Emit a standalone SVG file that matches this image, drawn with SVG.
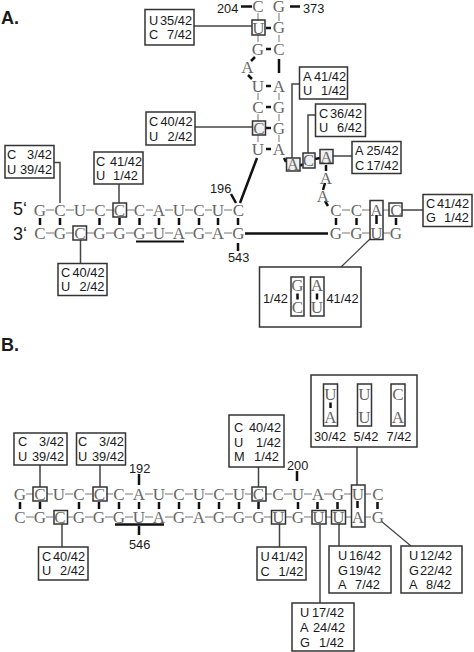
<svg xmlns="http://www.w3.org/2000/svg" width="474" height="652" viewBox="0 0 474 652">
<style>
.bg{fill:#fff}
.b{font:17px "Liberation Serif","Times New Roman",serif;fill:#666;text-anchor:middle}
.t{font:12.8px "Liberation Sans",Arial,sans-serif;fill:#1a1a1a}
.r{text-anchor:end}
.m{text-anchor:middle}
.h{font:bold 18px "Liberation Sans",Arial,sans-serif;fill:#1a1a1a}
.e{font:18px "Liberation Sans",Arial,sans-serif;fill:#1a1a1a}
.box{fill:#fff;stroke:#333;stroke-width:1.5}
.sb{fill:none;stroke:#333;stroke-width:1.5}
.thin{fill:none;stroke:#777;stroke-width:1}
.tick{fill:none;stroke:#111;stroke-width:2.500}
.lead{fill:none;stroke:#444;stroke-width:1.500}
.bar{fill:none;stroke:#111;stroke-width:2}
</style>
<rect class="bg" width="474" height="652"/>
<text class="h" x="1" y="24">A.</text>
<text class="h" x="1" y="351">B.</text>

<g id="connectors">
<path class="thin" d="M46 210H54M66 210H74M86 210H94M106 210H113M127 210H134M146 210H153M165 210H173M185 210H193M205 210H212M224 210H232M46 233H54M66 233H73M87 233H94M106 233H114M126 233H134M146 233H153M165 233H173M185 233H193M205 233H212M224 233H232M342 210H350M362 210H370M383 210H389M342 233H350M362 233H370M383 233H390M258 13V21M258 35V42M279 13V21M279 35V42M258 93V100M258 114V121M258 135V142M279 93V100M279 114V121M279 135V142"/>
<path class="tick" d="M40 218V225M60 218V225M99.500 218V225M119.500 218V225M139.500 218V225M159 218V225M179 218V225M199 218V225M218 218V225M238 218V225M336 218V225M356.500 218V225M376.500 215V224M396 218V225"/>
<path class="tick" d="M241 6.500H252M290 6.500H300M266 28H271M266 49H271M266 86H271M266 107H271M266 128H271M266 149H271M279 59V73M255 57L251 61M248 75L252 79M257 158L240 203M245 233.500H328M284 158L286 162M300 166L303 164M315 159L320 158M326 165V171M325 183L323 190M325 201L328 206M231 194L236 203M238 243V251"/>
<path class="bar" d="M136 241.500H184"/>
<path class="lead" d="M194 26H252M195 127H252M299 84H292V158M315 115H308V153M352 156H333M54 162.500H60V203M119 184V203M80.500 240V263M402 210H423"/>
<path class="lead" style="stroke-width:1.200" d="M370 239L341 267"/>
<path class="thin" d="M26 494H33M47 494H53M65 494H73M85 494H92M106 494H113M125 494H133M145 494H153M165 494H173M185 494H193M205 494H213M225 494H233M245 494H251M265 494H272M284 494H292M304 494H312M324 494H332M344 494H351M365 494H371M26 517H34M46 517H53M67 517H73M85 517H93M105 517H113M125 517H133M145 517H153M165 517H173M185 517H193M205 517H213M225 517H233M245 517H252M264 517H271M285 517H292M304 517H311M326 517H331M345 517H351M365 517H371"/>
<path class="tick" d="M20 502V509M40 502V509M79 502V509M99 502V509M119 502V509M139 502V509M159 502V509M179 502V509M199 502V509M219 502V509M239 502V509M258.500 502V509M298 502V509M317.500 502V509M337.500 502V509M357.500 501V508M377.500 502V509M139 474V485M297 471V481M139 526V535"/>
<path class="tick" d="M115 524.500H164"/>
<path class="lead" d="M40 465V487M100 465V487M62 524V547M258.500 467V487M357 447V485M279.500 524V547M320 525V603M339 524V546"/>
<path class="lead" style="stroke-width:1.200" d="M381 521L411 546"/>
</g>

<g id="a-stem">
<text class="b" x="258" y="11.500">C</text><text class="b" x="279" y="11.500">G</text>
<text class="b" x="279" y="33">G</text>
<text class="b" x="258" y="54.500">G</text><text class="b" x="279" y="54.500">C</text>
<text class="b" x="247.500" y="72.500">A</text>
<text class="b" x="258" y="91.500">U</text><text class="b" x="279" y="91.500">A</text>
<text class="b" x="258" y="112.500">C</text><text class="b" x="279" y="112.500">G</text>
<text class="b" x="279" y="133.500">G</text>
<text class="b" x="258" y="154.500">U</text><text class="b" x="279" y="154.500">A</text>
<text class="b" x="326" y="183.500">A</text><text class="b" x="323" y="201.500">A</text>
</g>
<g id="a-helix">
<text class="b" x="40" y="215.500">G</text><text class="b" x="60" y="215.500">C</text><text class="b" x="80" y="215.500">U</text><text class="b" x="100" y="215.500">C</text><text class="b" x="139.500" y="215.500">C</text><text class="b" x="159" y="215.500">A</text><text class="b" x="179" y="215.500">U</text><text class="b" x="199" y="215.500">C</text><text class="b" x="218" y="215.500">U</text><text class="b" x="238.500" y="215.500">C</text>
<text class="b" x="40" y="238.500">C</text><text class="b" x="60" y="238.500">G</text><text class="b" x="99.500" y="238.500">G</text><text class="b" x="119.500" y="238.500">G</text><text class="b" x="139.500" y="238.500">G</text><text class="b" x="159" y="238.500">U</text><text class="b" x="179" y="238.500">A</text><text class="b" x="199" y="238.500">G</text><text class="b" x="218" y="238.500">A</text><text class="b" x="238.500" y="238.500">G</text>
<text class="b" x="336" y="215.500">C</text><text class="b" x="356.500" y="215.500">C</text>
<text class="b" x="336" y="238.500">G</text><text class="b" x="356.500" y="238.500">G</text><text class="b" x="396" y="238.500">G</text>
<text class="e" x="13" y="215">5‘</text><text class="e" x="13" y="240">3‘</text>
</g>
<g id="a-labels">
<text class="t" x="217" y="12.500">204</text><text class="t" x="303" y="12.500">373</text>
<text class="t" x="210" y="192.500">196</text><text class="t" x="228" y="262">543</text>
</g>
<g id="a-boxed-bases">
<rect class="sb" x="252" y="20" width="13" height="15"/><text class="b" x="258.500" y="33.500">U</text>
<rect class="sb" x="252.500" y="121" width="13" height="14" style="fill:#f0f0f0"/><text class="b" x="259" y="133.500">C</text>
<rect class="sb" x="286.500" y="158" width="13.500" height="13" style="fill:#f0f0f0"/><text class="b" x="293" y="169.500">A</text>
<rect class="sb" x="303" y="153" width="12" height="15" style="fill:#f0f0f0"/><text class="b" x="308.500" y="165.500">C</text>
<rect class="sb" x="320" y="149.500" width="13" height="14" style="fill:#f0f0f0"/><text class="b" x="326.500" y="162.500">A</text>
<rect class="sb" x="113" y="203" width="13.500" height="14"/><text class="b" x="119.500" y="215.500">C</text>
<rect class="sb" x="73" y="226" width="13.500" height="14"/><text class="b" x="80" y="238.500">C</text>
<rect class="sb" x="370" y="200.500" width="13" height="39"/><text class="b" x="376.500" y="215.500">A</text><text class="b" x="376.500" y="238.500">U</text>
<rect class="sb" x="389" y="203" width="13" height="13"/><text class="b" x="396" y="215.500">C</text>
</g>
<g id="a-u35"><rect class="box" x="145" y="9.500" width="49" height="35.500"/><text class="t" x="149" y="24.500">U</text><text class="t r" x="192" y="24.500">35/42</text><text class="t" x="149" y="38.500">C</text><text class="t r" x="192" y="38.500">7/42</text></g>
<g id="a-c40-top"><rect class="box" x="146" y="112" width="49" height="33"/><text class="t" x="149" y="126">C</text><text class="t r" x="192.500" y="126">40/42</text><text class="t" x="149" y="140.500">U</text><text class="t r" x="192.500" y="140.500">2/42</text></g>
<g id="a-a41"><rect class="box" x="299.500" y="67" width="48" height="32"/><text class="t" x="303" y="80.500">A</text><text class="t r" x="346" y="80.500">41/42</text><text class="t" x="303" y="95">U</text><text class="t r" x="346" y="95">1/42</text></g>
<g id="a-c36"><rect class="box" x="315.500" y="104" width="50" height="32.500"/><text class="t" x="319" y="117.500">C</text><text class="t r" x="362" y="117.500">36/42</text><text class="t" x="319" y="132">U</text><text class="t r" x="362" y="132">6/42</text></g>
<g id="a-a25"><rect class="box" x="352" y="141.500" width="49" height="32"/><text class="t" x="355" y="155">A</text><text class="t r" x="398.500" y="155">25/42</text><text class="t" x="355" y="170">C</text><text class="t r" x="398.500" y="170">17/42</text></g>
<g id="a-c3"><rect class="box" x="5" y="145.500" width="49" height="32.500"/><text class="t" x="7" y="159">C</text><text class="t r" x="52" y="159">3/42</text><text class="t" x="7" y="173.500">U</text><text class="t r" x="52" y="173.500">39/42</text></g>
<g id="a-c41"><rect class="box" x="94" y="152" width="49" height="32"/><text class="t" x="96" y="165.500">C</text><text class="t r" x="142" y="165.500">41/42</text><text class="t" x="96" y="180">U</text><text class="t r" x="138" y="180">1/42</text></g>
<g id="a-c40-bottom"><rect class="box" x="58" y="263.500" width="49" height="32"/><text class="t" x="61" y="276.500">C</text><text class="t r" x="104.500" y="276.500">40/42</text><text class="t" x="61" y="291">U</text><text class="t r" x="104.500" y="291">2/42</text></g>
<g id="a-c41-right"><rect class="box" x="423" y="194.500" width="49" height="32"/><text class="t" x="426" y="207.500">C</text><text class="t r" x="469" y="207.500">41/42</text><text class="t" x="426" y="222">G</text><text class="t r" x="469" y="222">1/42</text></g>
<g id="a-pairs"><rect class="box" x="259.500" y="267" width="101.500" height="60"/>
<rect class="sb" x="291" y="277" width="13" height="39"/><text class="b" x="297.500" y="290.500">G</text><text class="b" x="297.500" y="312.500">C</text>
<rect class="sb" x="310.500" y="277" width="13.500" height="39"/><text class="b" x="317" y="290.500">A</text><text class="b" x="317" y="312.500">U</text>
<path class="tick" d="M297.500 293.500V299.500M317 293.500V299.500"/>
<text class="t" x="263" y="302.500">1/42</text><text class="t" x="326.500" y="302.500">41/42</text></g>

<g id="b-helix">
<text class="b" x="20" y="499.500">G</text><text class="b" x="59" y="499.500">U</text><text class="b" x="79" y="499.500">C</text><text class="b" x="119" y="499.500">C</text><text class="b" x="139" y="499.500">A</text><text class="b" x="159" y="499.500">U</text><text class="b" x="179" y="499.500">C</text><text class="b" x="199" y="499.500">U</text><text class="b" x="219" y="499.500">C</text><text class="b" x="239" y="499.500">U</text><text class="b" x="278" y="499.500">C</text><text class="b" x="298" y="499.500">U</text><text class="b" x="318" y="499.500">A</text><text class="b" x="338" y="499.500">G</text><text class="b" x="378" y="499.500">C</text>
<text class="b" x="20" y="522.500">C</text><text class="b" x="40" y="522.500">G</text><text class="b" x="79" y="522.500">G</text><text class="b" x="99" y="522.500">G</text><text class="b" x="119" y="522.500">G</text><text class="b" x="139" y="522.500">U</text><text class="b" x="159" y="522.500">A</text><text class="b" x="179" y="522.500">G</text><text class="b" x="199" y="522.500">A</text><text class="b" x="219" y="522.500">G</text><text class="b" x="239" y="522.500">G</text><text class="b" x="258.500" y="522.500">G</text><text class="b" x="298" y="522.500">G</text><text class="b" x="378" y="522.500">G</text>
</g>
<g id="b-labels"><text class="t" x="129" y="472.500">192</text><text class="t" x="287" y="469.500">200</text><text class="t" x="129" y="548.500">546</text></g>
<g id="b-boxed-bases">
<rect class="sb" x="33" y="487" width="14" height="14"/><text class="b" x="40" y="499.500">C</text>
<rect class="sb" x="93" y="487" width="14" height="14"/><text class="b" x="99.500" y="499.500">C</text>
<rect class="sb" x="54" y="510.500" width="13.500" height="13.500"/><text class="b" x="60" y="522.500">C</text>
<rect class="sb" x="252" y="487" width="14" height="14"/><text class="b" x="258.500" y="499.500">C</text>
<rect class="sb" x="271.500" y="510.500" width="14" height="13.500"/><text class="b" x="278.500" y="522.500">U</text>
<rect class="sb" x="312" y="510.500" width="14" height="13.500"/><text class="b" x="318.500" y="522.500">U</text>
<rect class="sb" x="331.500" y="510.500" width="14" height="13.500"/><text class="b" x="338.500" y="522.500">U</text>
<rect class="sb" x="351.500" y="485" width="13.500" height="42"/><text class="b" x="358" y="499.500">U</text><text class="b" x="358" y="522.500">A</text>
</g>
<g id="b-c3-1"><rect class="box" x="14" y="433" width="53" height="32"/><text class="t" x="18" y="446">C</text><text class="t r" x="64" y="446">3/42</text><text class="t" x="18" y="460.500">U</text><text class="t r" x="64" y="460.500">39/42</text></g>
<g id="b-c3-2"><rect class="box" x="76.500" y="433" width="49" height="32"/><text class="t" x="78" y="446">C</text><text class="t r" x="124" y="446">3/42</text><text class="t" x="78" y="460.500">U</text><text class="t r" x="124" y="460.500">39/42</text></g>
<g id="b-c40"><rect class="box" x="38.500" y="547" width="49.500" height="33"/><text class="t" x="42" y="560.500">C</text><text class="t r" x="85" y="560.500">40/42</text><text class="t" x="42" y="575">U</text><text class="t r" x="85" y="575">2/42</text></g>
<g id="b-c40-3"><rect class="box" x="229" y="415" width="55" height="52"/><text class="t" x="234" y="431.500">C</text><text class="t r" x="281" y="431.500">40/42</text><text class="t" x="234" y="446.500">U</text><text class="t r" x="281" y="446.500">1/42</text><text class="t" x="234" y="461">M</text><text class="t r" x="279" y="461">1/42</text></g>
<g id="b-pairs"><rect class="box" x="311" y="375" width="106" height="72"/>
<rect class="sb" x="323.500" y="384" width="14" height="42"/><text class="b" x="330.500" y="399.500">U</text><text class="b" x="330.500" y="422.500">A</text>
<path class="tick" d="M330.500 402.500V408"/>
<rect class="sb" x="357.500" y="384" width="14" height="42"/><text class="b" x="364.500" y="399.500">U</text><text class="b" x="364.500" y="422.500">U</text>
<rect class="sb" x="391" y="384" width="14" height="42"/><text class="b" x="398" y="399.500">C</text><text class="b" x="398" y="422.500">A</text>
<text class="t m" x="330" y="440.500">30/42</text><text class="t m" x="366" y="440.500">5/42</text><text class="t m" x="399" y="440.500">7/42</text></g>
<g id="b-u41"><rect class="box" x="257" y="547" width="49" height="33"/><text class="t" x="260.500" y="560.500">U</text><text class="t r" x="303.500" y="560.500">41/42</text><text class="t" x="260.500" y="575.500">C</text><text class="t r" x="303.500" y="575.500">1/42</text></g>
<g id="b-u16"><rect class="box" x="329" y="546" width="62" height="47"/><text class="t" x="338" y="559.500">U</text><text class="t r" x="381" y="559.500">16/42</text><text class="t" x="338" y="574.500">G</text><text class="t r" x="381" y="574.500">19/42</text><text class="t" x="338" y="589">A</text><text class="t r" x="380" y="589">7/42</text></g>
<g id="b-u12"><rect class="box" x="401" y="546" width="61" height="47"/><text class="t" x="409" y="559.500">U</text><text class="t r" x="452" y="559.500">12/42</text><text class="t" x="409" y="574.500">G</text><text class="t r" x="452" y="574.500">22/42</text><text class="t" x="409" y="589">A</text><text class="t r" x="451" y="589">8/42</text></g>
<g id="b-u17"><rect class="box" x="292" y="603" width="62" height="48"/><text class="t" x="300" y="617">U</text><text class="t r" x="344" y="617">17/42</text><text class="t" x="300" y="631.500">A</text><text class="t r" x="345" y="631.500">24/42</text><text class="t" x="300" y="646.500">G</text><text class="t r" x="344" y="646.500">1/42</text></g>
</svg>
